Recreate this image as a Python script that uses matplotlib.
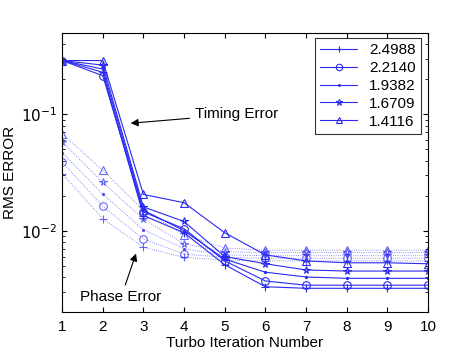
import matplotlib.pyplot as plt

plt.rcParams['font.family'] = ['Liberation Sans', 'DejaVu Sans']

iterations = [1, 2, 3, 4, 5, 6, 7, 8, 9, 10]
labels = ['2.4988', '2.2140', '1.9382', '1.6709', '1.4116']
markers = ['+', 'o', '.', '*', '^']

# timing error (solid)
timing = [
    [0.29, 0.23, 0.0135, 0.0096, 0.0051, 0.0033, 0.0032, 0.0032, 0.0032, 0.0032],
    [0.29, 0.215, 0.0145, 0.0104, 0.0055, 0.0037, 0.0034, 0.0034, 0.0034, 0.0034],
    [0.29, 0.245, 0.0150, 0.0100, 0.0057, 0.0044, 0.0040, 0.0039, 0.0039, 0.0039],
    [0.29, 0.265, 0.0160, 0.0120, 0.0060, 0.0052, 0.0046, 0.0045, 0.0045, 0.0045],
    [0.29, 0.29, 0.0205, 0.0174, 0.0096, 0.0062, 0.0055, 0.0053, 0.0053, 0.0052],
]

# phase error (dotted)
phase = [
    [0.031, 0.0127, 0.0072, 0.0059, 0.0056, 0.0055, 0.0055, 0.0055, 0.0055, 0.0055],
    [0.039, 0.0162, 0.0085, 0.0063, 0.0059, 0.0058, 0.0058, 0.0058, 0.0058, 0.0058],
    [0.047, 0.0206, 0.0102, 0.0070, 0.0062, 0.0061, 0.0061, 0.0061, 0.0061, 0.0061],
    [0.058, 0.026, 0.0126, 0.0077, 0.0066, 0.0065, 0.0065, 0.0065, 0.0065, 0.0065],
    [0.068, 0.033, 0.0150, 0.0092, 0.0071, 0.0068, 0.0068, 0.0068, 0.0068, 0.0068],
]

col = '#2a2af0'

fig = plt.figure(figsize=(4.74, 3.55), dpi=100)
ax = fig.add_axes([0.131, 0.121, 0.772, 0.786])

handles = []
for k in range(len(labels)):
    if markers[k] == '.':
        ms, mfc = 3, col
    else:
        ms, mfc = 5.5, 'none'
    h, = ax.semilogy(iterations, timing[k], '-', color=col, lw=0.8,
                     marker=markers[k], ms=ms, mfc=mfc, mec=col, mew=0.8,
                     label=labels[k])
    handles.append(h)
    ax.semilogy(iterations, phase[k], ':', color=col, lw=0.6, alpha=0.7,
                marker=markers[k], ms=ms, mfc=mfc, mec=col, mew=0.8)

ax.set_xlim(1, 10)
ax.set_ylim(0.002, 0.5)
ax.set_xticks(iterations)
ax.set_yticks([0.01, 0.1])
ax.set_yticklabels(['$10^{-2}$', '$10^{-1}$'])
ax.tick_params(which='both', direction='in', top=True, right=True, labelsize=11)
ax.tick_params(axis='x', pad=6)
ax.set_xlabel('Turbo Iteration Number', fontsize=11, labelpad=1)
ax.set_ylabel('RMS ERROR', fontsize=11, labelpad=3)

leg = ax.legend(handles=handles, loc='upper right', bbox_to_anchor=(0.981, 0.982),
                fancybox=False, edgecolor='black', fontsize=11, borderaxespad=0,
                handlelength=2.4, labelspacing=0.25, borderpad=0.35,
                markerscale=0.85)
leg.get_frame().set_linewidth(0.8)

ax.annotate('Timing Error', xy=(2.62, 0.0835), xytext=(4.27, 0.1),
            fontsize=11, va='center', ha='left',
            arrowprops=dict(arrowstyle='-|>', color='black', lw=0.8))
ax.annotate('Phase Error', xy=(2.84, 0.0067), xytext=(2.45, 0.00267),
            fontsize=11, va='center', ha='center',
            arrowprops=dict(arrowstyle='-|>', color='black', lw=0.8))

fig.savefig('out.png', dpi=100)
